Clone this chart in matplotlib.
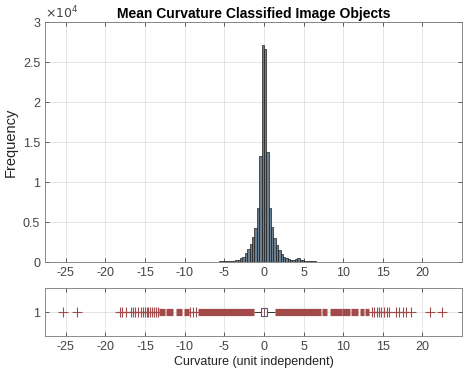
import numpy as np
import matplotlib
matplotlib.use('Agg')
import matplotlib.pyplot as plt
from matplotlib.ticker import FuncFormatter

plt.rcParams['font.family'] = ['Liberation Sans', 'DejaVu Sans']
plt.rcParams['axes.unicode_minus'] = False

# histogram counts, bins of width 0.3 starting at -12.0
bin_start = -12.0
bin_width = 0.3
counts = [
    5, 5, 6, 6, 7, 8, 8, 9, 10, 12,                  # -12.0 .. -9.0
    14, 16, 18, 21, 24, 28, 33, 39, 46, 54,          # -9.0 .. -6.0
    62, 70, 80, 92, 105, 120, 140, 170, 215, 290,    # -6.0 .. -3.0
    460, 650, 1100, 1650, 2300, 3100, 4200, 6800, 13200, 27100,  # -3.0 .. 0
    26600, 13700, 6800, 4400, 3000, 2100, 1500, 1000, 650, 450,  # 0 .. 3.0
    330, 270, 250, 330, 460, 300, 200, 150, 120, 100,  # 3.0 .. 6.0
    80, 65, 55, 45, 38, 32, 28, 24, 20, 17,          # 6.0 .. 9.0
    15, 13, 12, 10, 9, 8, 7, 6, 6, 5,                # 9.0 .. 12.0
    5, 4, 4, 4, 3, 3, 3, 3, 2, 2,                    # 12.0 .. 15.0
    2, 2, 2, 2, 2, 1, 1, 1, 1, 1,                    # 15.0 .. 18.0
    1, 1, 1, 1, 1, 1, 1, 1, 1, 1,                    # 18.0 .. 21.0
    1, 1, 1, 1,                                      # 21.0 .. 22.2
]

# boxplot statistics
box_q1, box_med, box_q3 = -0.35, 0.05, 0.45
whisk_lo, whisk_hi = -1.2, 1.4
# individual outliers
outliers = [-25.3, -23.6, -18.1, -17.9, -17.4, -16.8, -16.5, -16.2, -15.9,
            -15.5, -15.2, -15.0, -14.8, -14.6, -14.4, -14.1, -13.9, -13.6,
            -13.4, -8.6, -8.9, -9.3,
            13.6, 13.85, 14.2, 14.5, 14.8, 15.15, 15.5, 15.8, 16.6, 17.0,
            17.5, 17.9, 18.5, 20.9, 22.4]
# runs of outliers so dense that markers merge into a band
dense_runs = [(-13.2, -12.5), (-12.3, -11.4), (-11.1, -10.3), (-10.1, -9.5),
              (-8.3, -1.25), (1.45, 7.15), (7.35, 7.95), (8.3, 9.8),
              (9.9, 10.8), (11.0, 11.9), (12.1, 12.6), (12.8, 13.3)]

xticks = [-25, -20, -15, -10, -5, 0, 5, 10, 15, 20]
xlim = (-27.6, 25)

fig = plt.figure(figsize=(4.74, 3.68), dpi=100)
ax1 = fig.add_axes([0.095, 0.288, 0.880, 0.652])
ax2 = fig.add_axes([0.095, 0.087, 0.880, 0.130])

edges_left = [bin_start + i * bin_width for i in range(len(counts))]
ax1.bar(edges_left, counts, width=bin_width, align='edge',
        color='#6b7f90', edgecolor='#1e1e1e', linewidth=0.5, zorder=3)
ax1.set_xlim(*xlim)
ax1.set_ylim(0, 30000)
ax1.set_xticks(xticks)
ax1.set_yticks([0, 5000, 10000, 15000, 20000, 25000, 30000])
ax1.yaxis.set_major_formatter(FuncFormatter(lambda v, p: '%g' % (v / 1e4)))
ax1.set_ylabel('Frequency', fontsize=10.5, labelpad=4, color='#222222')
ax1.set_title('Mean Curvature Classified Image Objects', fontsize=10,
              fontweight='bold', pad=3)
ax1.text(0.0, 1.005, r'$\times10^4$', transform=ax1.transAxes, fontsize=9,
         color='#444444', ha='left', va='bottom')

# boxplot
lc = '#a24a4a'
ax2.hlines(1, whisk_lo, box_q1, color='#333333', lw=0.7, zorder=3)
ax2.hlines(1, box_q3, whisk_hi, color='#333333', lw=0.7, zorder=3)
ax2.add_patch(plt.Rectangle((box_q1, 0.92), box_q3 - box_q1, 0.16, fill=False,
                            edgecolor='#4a5a8a', lw=0.8, zorder=4))
ax2.vlines(box_med, 0.92, 1.08, color=lc, lw=0.7, zorder=4)
for lo, hi in dense_runs:
    ax2.hlines(1, lo, hi, color=lc, lw=5.2, zorder=3)
ax2.plot(outliers, [1] * len(outliers), '+', color=lc, ms=7, mew=0.8,
         linestyle='none', zorder=3)
ax2.set_xlim(*xlim)
ax2.set_ylim(0.5, 1.5)
ax2.set_xticks(xticks)
ax2.set_yticks([1])
ax2.set_xlabel('Curvature (unit independent)', fontsize=9, labelpad=2,
               color='#222222')

for ax in (ax1, ax2):
    ax.grid(True, color='#e0e0e0', lw=0.6, zorder=0)
    ax.set_axisbelow(True)
    ax.tick_params(direction='in', top=True, right=True, labelsize=9,
                   colors='#444444', length=3, width=0.6)
    for s in ax.spines.values():
        s.set_color('#777777')
        s.set_linewidth(0.6)

fig.savefig('out.png', dpi=100)
